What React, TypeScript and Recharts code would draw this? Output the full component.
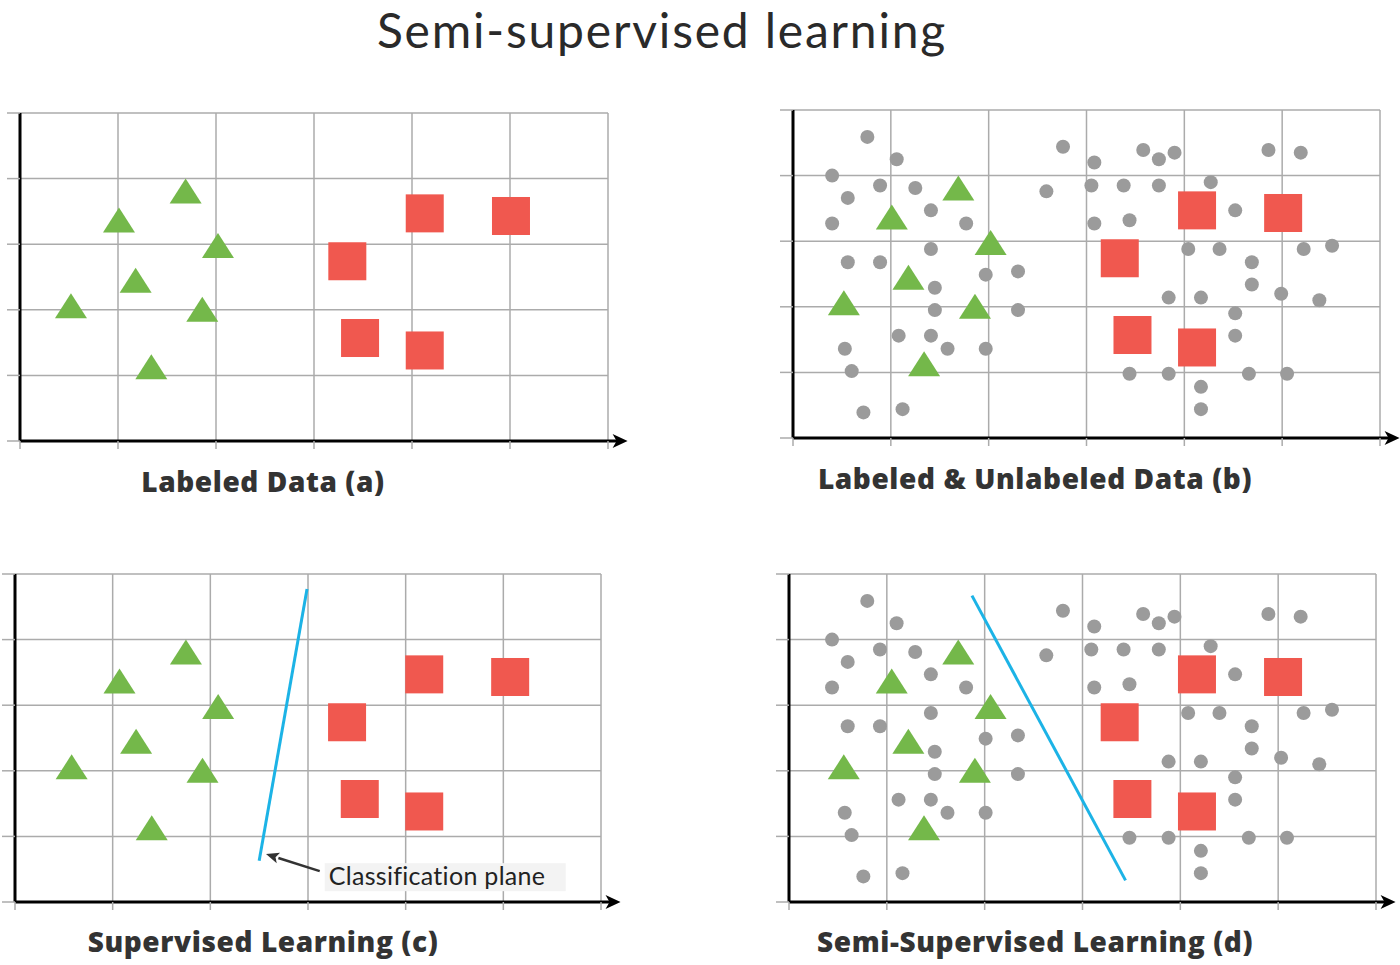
import React from 'react'
import {
  ScatterChart, Scatter, XAxis, YAxis, CartesianGrid, ReferenceLine,
} from 'recharts'

type Pt = { x: number; y: number }

const X_TICKS = [0, 1, 2, 3, 4, 5, 6]
const Y_TICKS = [0, 1, 2, 3, 4, 5]
const X_ARROW_END = 6.2
// corners of each panel's frame, so the frame axis always has a domain
const frameCorners: Pt[] = [{ x: 0, y: 0 }, { x: 6, y: 5 }]

// labeled class A (green triangles)
const classA: Pt[] = [
  { x: 1.69, y: 3.81 }, { x: 1.01, y: 3.37 }, { x: 2.02, y: 2.98 },
  { x: 1.18, y: 2.45 }, { x: 0.52, y: 2.06 }, { x: 1.86, y: 2.01 },
  { x: 1.34, y: 1.13 },
]

// labeled class B (red squares)
const classB: Pt[] = [
  { x: 4.13, y: 3.47 }, { x: 5.01, y: 3.43 }, { x: 3.34, y: 2.74 },
  { x: 3.47, y: 1.57 }, { x: 4.13, y: 1.38 },
]

// unlabeled points (grey dots)
const unlabeled: Pt[] = [
  { x: 0.76, y: 4.59 }, { x: 1.06, y: 4.25 }, { x: 0.40, y: 4.00 }, { x: 0.89, y: 3.85 },
  { x: 1.25, y: 3.81 }, { x: 0.56, y: 3.66 }, { x: 1.41, y: 3.47 }, { x: 0.40, y: 3.27 },
  { x: 1.77, y: 3.27 }, { x: 1.41, y: 2.88 }, { x: 0.56, y: 2.68 }, { x: 0.89, y: 2.68 },
  { x: 1.97, y: 2.49 }, { x: 2.30, y: 2.54 }, { x: 1.45, y: 2.29 }, { x: 1.45, y: 1.95 },
  { x: 2.30, y: 1.95 }, { x: 1.08, y: 1.56 }, { x: 1.41, y: 1.56 }, { x: 0.53, y: 1.36 },
  { x: 1.58, y: 1.36 }, { x: 1.97, y: 1.36 }, { x: 0.60, y: 1.02 }, { x: 0.72, y: 0.39 },
  { x: 1.12, y: 0.44 },
  { x: 2.76, y: 4.44 }, { x: 3.08, y: 4.20 }, { x: 3.58, y: 4.39 }, { x: 3.74, y: 4.25 },
  { x: 3.90, y: 4.35 }, { x: 4.86, y: 4.39 }, { x: 5.19, y: 4.35 }, { x: 2.59, y: 3.76 },
  { x: 3.05, y: 3.85 }, { x: 3.38, y: 3.85 }, { x: 3.74, y: 3.85 }, { x: 4.27, y: 3.90 },
  { x: 3.08, y: 3.27 }, { x: 3.44, y: 3.32 }, { x: 4.52, y: 3.47 }, { x: 4.04, y: 2.88 },
  { x: 4.36, y: 2.88 }, { x: 5.22, y: 2.88 }, { x: 5.51, y: 2.93 }, { x: 4.69, y: 2.68 },
  { x: 4.69, y: 2.34 }, { x: 3.84, y: 2.14 }, { x: 4.17, y: 2.14 }, { x: 4.99, y: 2.20 },
  { x: 5.38, y: 2.10 }, { x: 4.52, y: 1.90 }, { x: 4.52, y: 1.56 }, { x: 3.44, y: 0.98 },
  { x: 3.84, y: 0.98 }, { x: 4.66, y: 0.98 }, { x: 5.05, y: 0.98 }, { x: 4.17, y: 0.78 },
  { x: 4.17, y: 0.44 },
]

const planeSupervised: Pt[] = [{ x: 2.99, y: 4.77 }, { x: 2.5, y: 0.63 }]
const planeSemi: Pt[] = [{ x: 1.87, y: 4.67 }, { x: 3.44, y: 0.33 }]
const calloutArrow: Pt[] = [{ x: 3.12, y: 0.47 }, { x: 2.57, y: 0.73 }]

const GREEN = '#74b84a'
const RED = '#f0584f'
const GREY = '#9b9b9b'
const GRID = '#ababab'
const CYAN = '#1cb3e6'

const Triangle = (p: any) => (
  <polygon
    points={`${p.cx},${p.cy - 12.5} ${p.cx + 16},${p.cy + 12.5} ${p.cx - 16},${p.cy + 12.5}`}
    fill={GREEN}
  />
)
const Square = (p: any) => <rect x={p.cx - 19} y={p.cy - 19} width={38} height={38} fill={RED} />
const Dot = (p: any) => <ellipse cx={p.cx} cy={p.cy} rx={7} ry={7} fill={GREY} />
const Nothing = () => <g />

const AxisArrow = (p: any) => (
  <g>
    <line x1={p.x1} y1={p.y1} x2={p.x2 - 8} y2={p.y2} stroke="#000" strokeWidth={3} />
    <polygon
      points={`${p.x2},${p.y2} ${p.x2 - 15},${p.y2 - 7} ${p.x2 - 11},${p.y2} ${p.x2 - 15},${p.y2 + 7}`}
      fill="#000"
    />
  </g>
)

const Callout = (p: any) => {
  const { x1, y1, x2, y2 } = p
  const a = Math.atan2(y2 - y1, x2 - x1)
  const bx = x2 - 13 * Math.cos(a)
  const by = y2 - 13 * Math.sin(a)
  const nx = -Math.sin(a) * 5.5
  const ny = Math.cos(a) * 5.5
  return (
    <g>
      <line x1={x1} y1={y1} x2={bx} y2={by} stroke="#333" strokeWidth={2.5} />
      <polygon
        points={`${x2},${y2} ${bx + nx},${by + ny} ${bx + 3 * Math.cos(a)},${by + 3 * Math.sin(a)} ${bx - nx},${by - ny}`}
        fill="#333"
      />
      <rect x={x1 + 5} y={y1 - 8} width={241} height={28} fill="#f3f3f3" />
      <text x={x1 + 9} y={y1 + 14} fontSize={25} letterSpacing={0.3} fill="#222" fontFamily="Lato">
        Classification plane
      </text>
    </g>
  )
}

const ML = 20 // space left of the plot (tick marks live in the last 13px)
const MT = 10
const MR = 32
const Y_TICK = 13
const X_TICK = 8

interface PanelProps {
  left: number
  top: number
  w: number
  h: number
  shift?: number // the marks sit a little right of this panel's frame
  showUnlabeled?: boolean
  plane?: Pt[]
  callout?: boolean
}

function Panel({ left, top, w, h, shift = 0, showUnlabeled, plane, callout }: PanelProps) {
  return (
    <div style={{ position: 'absolute', left: left - ML, top: top - MT }}>
      <ScatterChart
        width={w + ML + MR}
        height={h + MT + X_TICK + 8}
        margin={{ top: MT, right: MR, bottom: 8, left: ML - Y_TICK }}
      >
        <CartesianGrid stroke={GRID} strokeWidth={1.5} />
        <XAxis
          type="number" dataKey="x" domain={[0, 6]} ticks={X_TICKS} height={X_TICK}
          tickSize={X_TICK} tickFormatter={() => ''} axisLine={false}
          tickLine={{ stroke: GRID, strokeWidth: 1.5 }}
        />
        <XAxis
          xAxisId="pts" type="number" dataKey="x" domain={[-shift, 6 - shift]} hide
        />
        <YAxis
          type="number" dataKey="y" domain={[0, 5]} ticks={Y_TICKS} width={Y_TICK}
          tickSize={Y_TICK} tickFormatter={() => ''} axisLine={false}
          tickLine={{ stroke: GRID, strokeWidth: 1.5 }}
        />
        <Scatter data={frameCorners} shape={Nothing} isAnimationActive={false} />
        {showUnlabeled && (
          <Scatter xAxisId="pts" data={unlabeled} shape={Dot} isAnimationActive={false} />
        )}
        <Scatter xAxisId="pts" data={classA} shape={Triangle} isAnimationActive={false} />
        <Scatter xAxisId="pts" data={classB} shape={Square} isAnimationActive={false} />
        {plane && (
          <ReferenceLine
            segment={plane} ifOverflow="visible" stroke={CYAN} strokeWidth={3}
          />
        )}
        {callout && (
          <ReferenceLine segment={calloutArrow} ifOverflow="visible" shape={Callout} />
        )}
        <ReferenceLine
          segment={[{ x: 0, y: 0 }, { x: 0, y: 5 }]} ifOverflow="visible"
          stroke="#000" strokeWidth={3}
        />
        <ReferenceLine
          segment={[{ x: 0, y: 0 }, { x: X_ARROW_END, y: 0 }]} ifOverflow="visible"
          shape={AxisArrow}
        />
      </ScatterChart>
    </div>
  )
}

const caption: React.CSSProperties = {
  position: 'absolute',
  transform: 'translateX(-50%)',
  whiteSpace: 'nowrap',
  fontFamily: '"Open Sans"',
  fontWeight: 800,
  fontSize: 28,
  letterSpacing: 0.6,
  lineHeight: 1,
  color: '#333',
}

export default function App() {
  return (
    <div style={{ position: 'absolute', left: 0, top: 0, width: 1400, height: 965, background: '#fff' }}>
      <svg width={1400} height={70} style={{ position: 'absolute', left: 0, top: 0 }}>
        <text
          x={662} y={48} textAnchor="middle" fontFamily="Lato" fontSize={48}
          letterSpacing={1.8} fill="#2a2a2a"
        >
          Semi-supervised learning
        </text>
      </svg>

      <Panel left={20} top={113} w={588} h={328} />
      <Panel left={793} top={110} w={587} h={328} showUnlabeled />
      <Panel left={15} top={574} w={586} h={328} shift={0.06} plane={planeSupervised} callout />
      <Panel left={789} top={574} w={587} h={328} shift={0.04} showUnlabeled plane={planeSemi} />

      <div style={{ ...caption, left: 263, top: 467 }}>Labeled Data (a)</div>
      <div style={{ ...caption, left: 1035, top: 464 }}>Labeled &amp; Unlabeled Data (b)</div>
      <div style={{ ...caption, left: 263, top: 927 }}>Supervised Learning (c)</div>
      <div style={{ ...caption, left: 1035, top: 927 }}>Semi-Supervised Learning (d)</div>
    </div>
  )
}
